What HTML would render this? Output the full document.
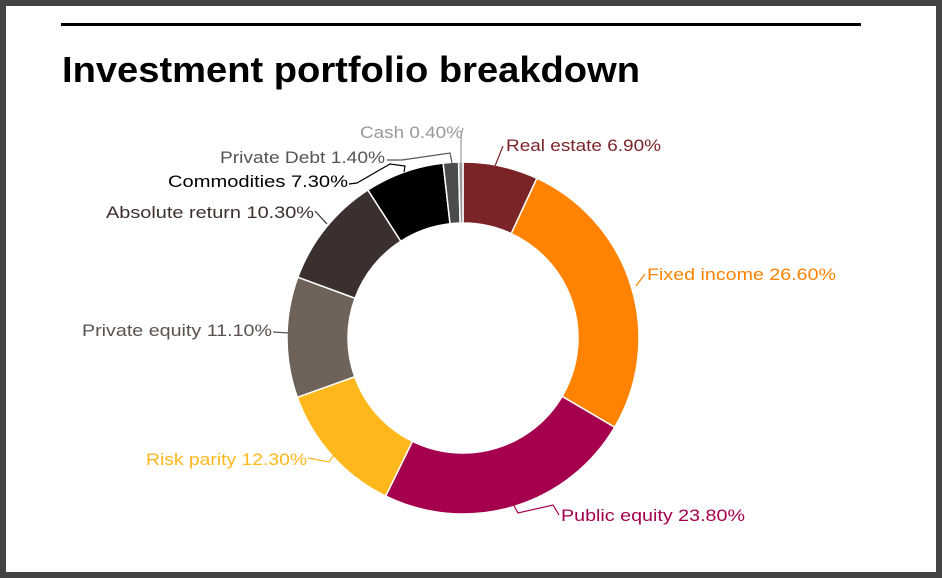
<!DOCTYPE html>
<html><head><meta charset="utf-8"><style>
html,body{margin:0;padding:0;background:#fff}
#wrap{position:relative;width:942px;height:578px;box-sizing:border-box;border:6px solid #444;border-right-width:6px;background:#fff;overflow:hidden}
svg{position:absolute;left:-6px;top:-6px}
text{font-family:"Liberation Sans",sans-serif}
</style></head><body>
<div id="wrap">
<svg id="chart" width="942" height="578">
<rect x="61" y="23" width="800" height="3" fill="#000"/>
<text x="62" y="82" font-size="36" font-weight="bold" textLength="578" lengthAdjust="spacingAndGlyphs">Investment portfolio breakdown</text>
</svg>
</div>
<script>
const categories=["Real estate","Fixed income","Public equity","Risk parity","Private equity","Absolute return","Commodities","Private Debt","Cash"];
const values=[6.9,26.6,23.8,12.3,11.1,10.3,7.3,1.4,0.4];
const valueLabels=["6.90%","26.60%","23.80%","12.30%","11.10%","10.30%","7.30%","1.40%","0.40%"];
const colors=["#7a2428","#ff8200","#a5004d","#ffb71b","#6f6258","#3b302d","#000000","#4c4c4c","#999999"];
const labelColors=["#7a2428","#ff8200","#a5004d","#ffb71b","#5a524d","#3b302d","#000000","#555555","#999999"];
// label layout: [x, y, anchor, width, leader points]
const layout=[
 [506,151,"start",155,[[495,166],[503,146]]],
 [647,280,"start",189,[[636,286],[645,274]]],
 [561,521,"start",184,[[513,504],[518,513],[553,505],[559,515]]],
 [307,465,"end",161,[[308,458],[329,462],[337,451]]],
 [272,336,"end",190,[[273,332],[289,333]]],
 [314,218,"end",208,[[315,211],[327,224]]],
 [348,187,"end",180,[[349,184],[357,183],[390,164],[405,166],[404,172]]],
 [385,163,"end",165,[[387,160],[402,160],[450,153],[452,163]]],
 [463,138,"end",103,[[463,128],[461,135],[461,163]]]
];
const svg=document.getElementById('chart');
const NS="http://www.w3.org/2000/svg";
const cx=463,cy=338,R=176,r=115;
const total=values.reduce((a,b)=>a+b,0);
function pt(a,rad){return [cx+rad*Math.sin(a),cy-rad*Math.cos(a)];}
let acc=0;
values.forEach((v,i)=>{
  const a0=acc/total*2*Math.PI; acc+=v; const a1=acc/total*2*Math.PI;
  const large=(a1-a0)>Math.PI?1:0;
  const p0=pt(a0,R),p1=pt(a1,R),q1=pt(a1,r),q0=pt(a0,r);
  const p=document.createElementNS(NS,'path');
  p.setAttribute('d',`M${p0[0]},${p0[1]}A${R},${R} 0 ${large} 1 ${p1[0]},${p1[1]}L${q1[0]},${q1[1]}A${r},${r} 0 ${large} 0 ${q0[0]},${q0[1]}Z`);
  p.setAttribute('fill',colors[i]);p.setAttribute('stroke','#fff');p.setAttribute('stroke-width','1.5');
  
  
  svg.appendChild(p);
});
layout.forEach((L,i)=>{
  const pl=document.createElementNS(NS,'polyline');
  pl.setAttribute('points',L[4].map(q=>q.join(',')).join(' '));
  pl.setAttribute('fill','none');pl.setAttribute('stroke',labelColors[i]);pl.setAttribute('stroke-width','1.2');
  
  
  svg.appendChild(pl);
  const t=document.createElementNS(NS,'text');
  t.setAttribute('x',L[0]);t.setAttribute('y',L[1]);t.setAttribute('text-anchor',L[2]);
  t.setAttribute('font-size','17');t.setAttribute('fill',labelColors[i]);
  t.setAttribute('textLength',L[3]);t.setAttribute('lengthAdjust','spacingAndGlyphs');
  t.textContent=categories[i]+' '+valueLabels[i];
  
  
  svg.appendChild(t);
});
</script>
</body></html>
